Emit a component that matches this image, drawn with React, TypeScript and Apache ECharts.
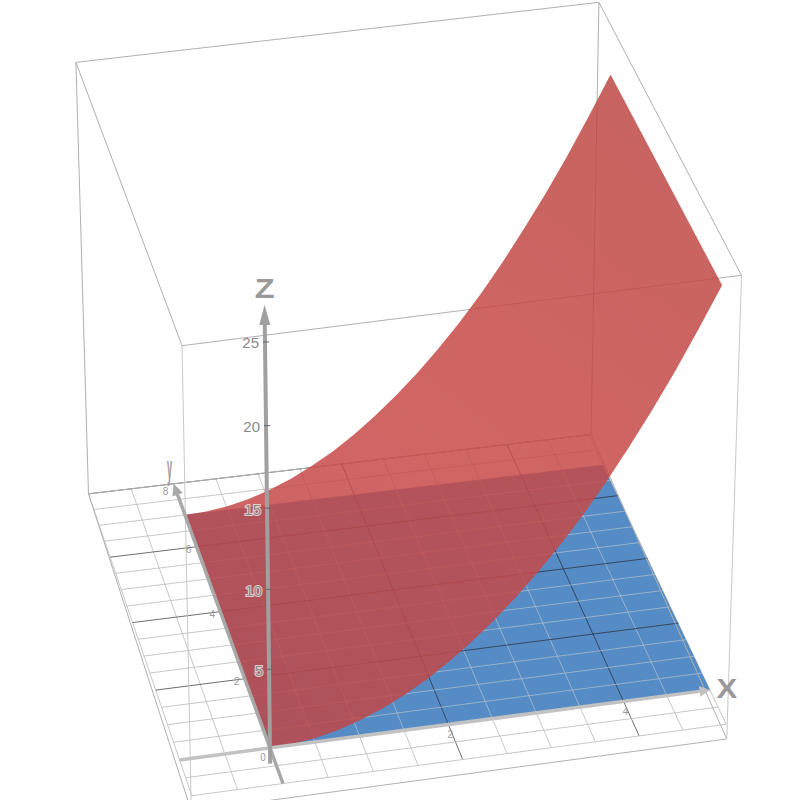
import React, { useEffect, useRef } from "react";
import * as echarts from "echarts";

// ---- data ----
const surfaceX = [0, 0.25, 0.5, 0.75, 1, 1.25, 1.5, 1.75, 2, 2.25, 2.5, 2.75, 3, 3.25, 3.5, 3.75, 4, 4.25, 4.5, 4.75, 5];
const surfaceZ = [0, 0.06, 0.25, 0.56, 1, 1.56, 2.25, 3.06, 4, 5.06, 6.25, 7.56, 9, 10.56, 12.25, 14.1, 16.1, 18.2, 20.45, 22.85, 25.35];
const surfaceY = [0, 7];
const planeX = [0, 5];
const planeY = [0, 7];
const gridX = [-1, -0.5, 0, 0.5, 1, 1.5, 2, 2.5, 3, 3.5, 4, 4.5, 5];
const gridY = [-1, -0.5, 0, 0.5, 1, 1.5, 2, 2.5, 3, 3.5, 4, 4.5, 5, 5.5, 6, 6.5, 7, 7.5, 8];
const majorX = [2, 4];
const majorY = [2, 4, 6, 8];
const xTicks = [2, 4];
const yTicks = [2, 4, 6, 8];
const zTicks = [5, 10, 15, 20, 25];
// box corners: back-left, back-right, front-right, front-left (X, Y, Ztop)
const boxBase = [
  [-1, 8, 27.5],
  [5.03, 8, 28.1],
  [4.93, -1.4, 28.67],
  [-1.06, -1.4, 28.18],
];
const axisX = [-1, 5];
const axisY = [-1, 8];
const axisZ = [-1, 27.2];

// ---- camera ----
function project(X: number, Y: number, Z: number): number[] {
  const w = 1 + 0.004516 * X + 0.00834 * Y - 0.00151 * Z;
  return [
    (91.2 * X - 10.6 * Y - 0.6 * Z + 270) / w,
    (-8.48 * X - 28.99 * Y - 16.76 * Z + 748) / w,
  ];
}

type Seg = number[];
const groundLines: Seg[] = [];
gridX.forEach((x) => groundLines.push([x, -1, 0, x, 8, 0, majorX.includes(x) ? 1 : 0]));
gridY.forEach((y) => groundLines.push([-1, y, 0, 5, y, 0, majorY.includes(y) ? 1 : 0]));

const planeLines: Seg[] = [];
gridX
  .filter((x) => x > planeX[0] && x < planeX[1])
  .forEach((x) => planeLines.push([x, planeY[0], 0, x, planeY[1], 0, majorX.includes(x) ? 1 : 0]));
gridY
  .filter((y) => y > planeY[0] && y < planeY[1])
  .forEach((y) => planeLines.push([planeX[0], y, 0, planeX[1], y, 0, majorY.includes(y) ? 1 : 0]));

const boxLines: Seg[] = [];
boxBase.forEach((c, i) => {
  const n = boxBase[(i + 1) % 4];
  boxLines.push([c[0], c[1], 0, n[0], n[1], 0, 0]);
  boxLines.push([c[0], c[1], c[2], n[0], n[1], n[2], 0]);
  boxLines.push([c[0], c[1], 0, c[0], c[1], c[2], i >= 2 ? 1 : 0]);
});

export default function App() {
  const ref = useRef<HTMLDivElement>(null);
  useEffect(() => {
    const chart = echarts.init(ref.current!, undefined, { renderer: "svg" });

    const lineRender = (styleOf: (k: number) => any) => (_: any, api: any) => {
      const a = api.coord(project(api.value(0), api.value(1), api.value(2)));
      const b = api.coord(project(api.value(3), api.value(4), api.value(5)));
      return {
        type: "line",
        shape: { x1: a[0], y1: a[1], x2: b[0], y2: b[1] },
        style: styleOf(api.value(6)),
        silent: true,
      };
    };

    const planeRender = (_: any, api: any) => {
      const pts = [
        [planeX[0], planeY[0]],
        [planeX[1], planeY[0]],
        [planeX[1], planeY[1]],
        [planeX[0], planeY[1]],
      ].map((p) => api.coord(project(p[0], p[1], 0)));
      return { type: "polygon", shape: { points: pts }, style: { fill: "#558cc6" }, silent: true };
    };

    const surfaceRender = (_: any, api: any) => {
      const front = surfaceX.map((x, i) => api.coord(project(x, surfaceY[0], surfaceZ[i])));
      const back = surfaceX.map((x, i) => api.coord(project(x, surfaceY[1], surfaceZ[i]))).reverse();
      return {
        type: "polygon",
        shape: { points: front.concat(back) },
        style: {
          fill: new echarts.graphic.LinearGradient(
            200, 700, 650, 100,
            [
              { offset: 0, color: "rgba(192,70,70,0.84)" },
              { offset: 0.5, color: "rgba(199,72,70,0.84)" },
              { offset: 1, color: "rgba(188,70,66,0.84)" },
            ],
            true
          ),
        },
        silent: true,
      };
    };

    const axisColour = ["#c2c2c2", "#a8a8a8", "#a0a0a0"];
    const axisRender = (_: any, api: any) => {
      const k = api.value(0);
      const ends =
        k === 0
          ? [[axisX[0], 0, 0], [axisX[1] - 0.12, 0, 0], [axisX[1], 0, 0]]
          : k === 1
          ? [[0, axisY[0], 0], [0, axisY[1] - 0.35, 0], [0, axisY[1], 0]]
          : [[0, 0, axisZ[0]], [0, 0, axisZ[1] - 1.2], [0, 0, axisZ[1]]];
      const [s, m, t] = ends.map((e) => api.coord(project(e[0], e[1], e[2])));
      const dx = t[0] - m[0];
      const dy = t[1] - m[1];
      const len = Math.hypot(dx, dy) || 1;
      const hw = 5.5;
      const nx = (-dy / len) * hw;
      const ny = (dx / len) * hw;
      return {
        type: "group",
        silent: true,
        children: [
          {
            type: "line",
            shape: { x1: s[0], y1: s[1], x2: m[0], y2: m[1] },
            style: { stroke: axisColour[k], lineWidth: k === 2 ? 4 : 3.5 },
          },
          {
            type: "polygon",
            shape: { points: [[m[0] + nx, m[1] + ny], t, [m[0] - nx, m[1] - ny]] },
            style: { fill: axisColour[k] },
          },
        ],
      };
    };

    const tickRender = (_: any, api: any) => {
      const z = api.value(0);
      const p = api.coord(project(0, 0, z));
      return {
        type: "line",
        silent: true,
        shape: { x1: p[0] - 2, y1: p[1], x2: p[0] + 4, y2: p[1] },
        style: { stroke: "#666", lineWidth: 1 },
      };
    };

    const labels: any[] = [];
    zTicks.forEach((z) => labels.push({ t: String(z), a: [0, 0, z], dx: -6, dy: 1, size: 15, halo: z <= 15, al: "right" }));
    xTicks.forEach((x) => labels.push({ t: String(x), a: [x, 0, 0], dx: 2, dy: 10, size: 10, halo: false, al: "center" }));
    yTicks.forEach((y) => labels.push({ t: String(y), a: [0, y, 0], dx: -8, dy: y === 8 ? 8 : 3, size: 10, halo: false, al: "center" }));
    labels.push({ t: "0", a: [0, 0, 0], dx: -7, dy: 9, size: 10, halo: false, al: "center" });

    const labelRender = (_: any, api: any) => {
      const l = labels[api.value(0)];
      const p = api.coord(project(l.a[0], l.a[1], l.a[2]));
      return {
        type: "text",
        silent: true,
        x: p[0] + l.dx,
        y: p[1] + l.dy,
        style: {
          text: l.t,
          font: `${l.size}px "Liberation Sans", Arial, sans-serif`,
          fill: l.size === 10 ? "#9a9a9a" : "#8a8a8a",
          stroke: l.halo ? "rgba(240,225,225,0.85)" : undefined,
          lineWidth: l.halo ? 2 : 0,
          align: l.al,
          verticalAlign: "middle",
        },
      };
    };

    const names = [
      { t: "X", a: [5, 0, 0], dx: 17, dy: -1, sx: 1.15, sy: 1, size: 27 },
      { t: "Z", a: [0, 0, axisZ[1]], dx: 0, dy: -16, sx: 1.25, sy: 1.05, size: 26 },
      { t: "y", a: [0, axisY[1], 0], dx: -4, dy: -17, sx: 0.45, sy: 1.7, size: 20 },
    ];
    const nameRender = (_: any, api: any) => {
      const n = names[api.value(0)];
      const p = api.coord(project(n.a[0], n.a[1], n.a[2]));
      return {
        type: "text",
        silent: true,
        x: p[0] + n.dx,
        y: p[1] + n.dy,
        scaleX: n.sx,
        scaleY: n.sy,
        style: {
          text: n.t,
          font: `bold ${n.size}px "Liberation Sans", Arial, sans-serif`,
          fill: "#999999",
          align: "center",
          verticalAlign: "middle",
        },
      };
    };

    const custom = (data: any[], renderItem: any, z: number) => ({
      type: "custom",
      coordinateSystem: "cartesian2d",
      clip: false,
      silent: true,
      data,
      renderItem,
      z,
    });

    chart.setOption({
      animation: false,
      grid: { left: 0, top: 0, width: 800, height: 800 },
      xAxis: { type: "value", min: 0, max: 800, show: false },
      yAxis: { type: "value", min: 0, max: 800, inverse: true, show: false },
      series: [
        custom(groundLines, lineRender((k) => ({ stroke: k ? "rgba(85,85,85,0.85)" : "rgba(190,190,190,0.85)", lineWidth: 1 })), 1),
        custom([[0]], planeRender, 2),
        custom(planeLines, lineRender((k) => ({ stroke: k ? "rgba(40,50,65,0.75)" : "rgba(205,205,205,0.55)", lineWidth: 1 })), 3),
        custom(boxLines, lineRender((k) => ({ stroke: k ? "#c8c8c8" : "#b0b0b0", lineWidth: 1 })), 4),
        custom([[0]], surfaceRender, 5),
        custom([[0], [1], [2]], axisRender, 6),
        custom(zTicks.map((z) => [z]), tickRender, 7),
        custom(labels.map((_, i) => [i]), labelRender, 8),
        custom(names.map((_, i) => [i]), nameRender, 8),
      ],
    });
    return () => chart.dispose();
  }, []);
  return <div ref={ref} style={{ position: "absolute", left: 0, top: 0, width: 800, height: 800, overflow: "hidden" }} />;
}
